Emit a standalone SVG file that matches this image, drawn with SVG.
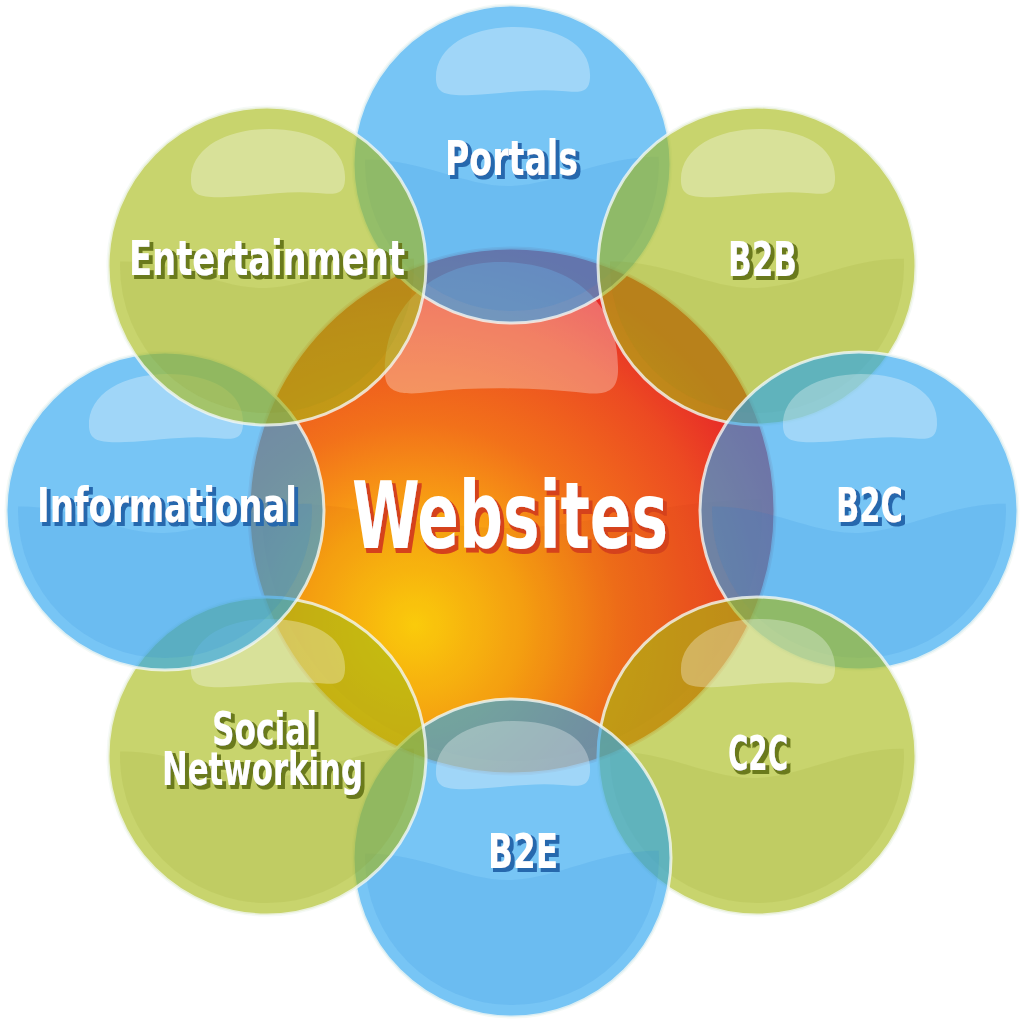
<svg xmlns="http://www.w3.org/2000/svg" xmlns:xlink="http://www.w3.org/1999/xlink" width="1024" height="1024" viewBox="0 0 1024 1024">
<style>
.lbl{font-family:'DejaVu Sans Condensed','DejaVu Sans',sans-serif;font-stretch:condensed;font-weight:bold;font-size:48px;text-anchor:middle;fill:#ffffff}
.big{font-size:93px}
.sm{font-size:46px}
.shb{filter:url(#sb)}
.shg{filter:url(#sg)}
.shr{filter:url(#sr)}
.ring{fill:none;stroke:#f2f7f4;stroke-opacity:0.8;stroke-width:3}
.hl{fill:#ffffff;fill-opacity:0.3}
</style>
<defs>
<filter id="sb" x="-10%" y="-20%" width="125%" height="150%">
<feMorphology in="SourceAlpha" operator="dilate" radius="1" result="d"/>
<feOffset in="d" dx="3" dy="3" result="o"/>
<feFlood flood-color="#2767ad"/>
<feComposite in2="o" operator="in" result="s"/>
<feMerge><feMergeNode in="s"/><feMergeNode in="SourceGraphic"/></feMerge>
</filter>
<filter id="sg" x="-10%" y="-20%" width="125%" height="150%">
<feMorphology in="SourceAlpha" operator="dilate" radius="1" result="d"/>
<feOffset in="d" dx="3" dy="3" result="o"/>
<feFlood flood-color="#6b7a1c"/>
<feComposite in2="o" operator="in" result="s"/>
<feMerge><feMergeNode in="s"/><feMergeNode in="SourceGraphic"/></feMerge>
</filter>
<filter id="sr" x="-10%" y="-20%" width="125%" height="150%">
<feMorphology in="SourceAlpha" operator="dilate" radius="1" result="d"/>
<feOffset in="d" dx="3" dy="4" result="o"/>
<feFlood flood-color="#d5431b"/>
<feComposite in2="o" operator="in" result="s"/>
<feMerge><feMergeNode in="s"/><feMergeNode in="SourceGraphic"/></feMerge>
</filter>
<radialGradient id="gCenter" gradientUnits="userSpaceOnUse" cx="415" cy="625" r="390">
<stop offset="0" stop-color="#ffd60c"/>
<stop offset="0.28" stop-color="#f9a612"/>
<stop offset="0.52" stop-color="#f2711a"/>
<stop offset="0.8" stop-color="#ec4a22"/>
<stop offset="1" stop-color="#e6222a"/>
</radialGradient>
<clipPath id="inner"><circle cx="0" cy="0" r="147"/></clipPath>
<clipPath id="centerClip"><circle cx="512" cy="511" r="250"/></clipPath>
<path id="blob" d="M -76,-84 C -78,-118 -40,-137 2,-137 C 45,-137 80,-120 78,-86 C 77,-72 70,-71 50,-73 C 20,-76 -10,-70 -40,-69 C -65,-68 -75,-70 -76,-84 Z"/>
<path id="band" d="M -165,-3 C -100,-12 -50,24 0,22 C 50,20 100,-14 165,-6 L 165,170 L -165,170 Z"/>
<g id="bubbleBlue">
<circle r="159" fill="#2aa5f0" fill-opacity="0.64"/>
<use xlink:href="#band" clip-path="url(#inner)" fill="#1a78d8" fill-opacity="0.12"/>
<use xlink:href="#blob" class="hl"/>
<circle r="159" class="ring"/>
</g>
<g id="bubbleGreen">
<circle r="159" fill="#a6b914" fill-opacity="0.62"/>
<use xlink:href="#band" clip-path="url(#inner)" fill="#7d8a10" fill-opacity="0.1"/>
<use xlink:href="#blob" class="hl"/>
<circle r="159" class="ring"/>
</g>
</defs>
<rect width="1024" height="1024" fill="#ffffff"/>

<g id="connectors"></g>

<g id="node-websites">
<circle cx="512" cy="511" r="263" fill="url(#gCenter)"/>
<path d="M 240,505 C 350,495 420,530 512,528 C 600,526 680,495 790,500 L 790,800 L 240,800 Z" clip-path="url(#centerClip)" fill="#b02800" fill-opacity="0.06"/>
<path d="M 385,375 C 383,300 440,262 500,262 C 570,262 620,300 618,372 C 617,392 605,395 585,393 C 540,388 480,386 430,392 C 400,396 386,392 385,375 Z" class="hl"/>
<circle cx="512" cy="511" r="263" fill="none" stroke="#f8d8d4" stroke-opacity="0.85" stroke-width="3"/>
<text x="510" y="548" class="lbl big shr" textLength="316" lengthAdjust="spacingAndGlyphs">Websites</text>
</g>

<g id="node-portals">
<use xlink:href="#bubbleBlue" transform="translate(512,164)"/>
<text x="511.5" y="175" class="lbl shb" textLength="133" lengthAdjust="spacingAndGlyphs">Portals</text>
</g>

<g id="node-b2b">
<use xlink:href="#bubbleGreen" transform="translate(757,266)"/>
<text x="762.5" y="276" class="lbl shg" textLength="69" lengthAdjust="spacingAndGlyphs">B2B</text>
</g>

<g id="node-b2c">
<use xlink:href="#bubbleBlue" transform="translate(859,511)"/>
<text x="869.5" y="522" class="lbl shb" textLength="67" lengthAdjust="spacingAndGlyphs">B2C</text>
</g>

<g id="node-c2c">
<use xlink:href="#bubbleGreen" transform="translate(757,756)"/>
<text x="758" y="770" class="lbl shg" textLength="60" lengthAdjust="spacingAndGlyphs">C2C</text>
</g>

<g id="node-b2e">
<use xlink:href="#bubbleBlue" transform="translate(512,858)"/>
<text x="523" y="868" class="lbl shb" textLength="70" lengthAdjust="spacingAndGlyphs">B2E</text>
</g>

<g id="node-social-networking">
<use xlink:href="#bubbleGreen" transform="translate(267,756)"/>
<text class="lbl sm shg"><tspan x="264.5" y="745" textLength="105" lengthAdjust="spacingAndGlyphs">Social</tspan><tspan x="262.5" y="785" textLength="201" lengthAdjust="spacingAndGlyphs">Networking</tspan></text>
</g>

<g id="node-informational">
<use xlink:href="#bubbleBlue" transform="translate(165,511)"/>
<text x="167" y="522" class="lbl shb" textLength="260" lengthAdjust="spacingAndGlyphs">Informational</text>
</g>

<g id="node-entertainment">
<use xlink:href="#bubbleGreen" transform="translate(267,266)"/>
<text x="267" y="275" class="lbl shg" textLength="276" lengthAdjust="spacingAndGlyphs">Entertainment</text>
</g>
</svg>
